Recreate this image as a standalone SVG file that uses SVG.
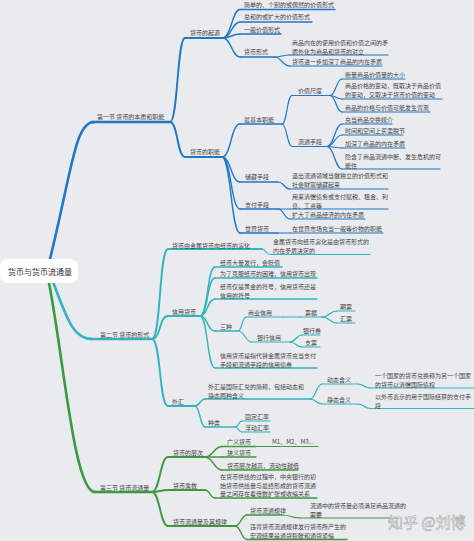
<svg xmlns="http://www.w3.org/2000/svg" width="474" height="541" viewBox="0 0 474 541">
<style>
text{font-family:"Noto Sans CJK SC","Noto Sans",sans-serif;font-size:6px;fill:#444}
.root{font-size:8px;fill:#333}
line,path{fill:none;stroke-linecap:round}
.bl{stroke:#1f77c6}
.te{stroke:#30b4c1}
.gr{stroke:#3b9a3d}
.w1{stroke-width:2.6}
.w2{stroke-width:1.9}
.w3{stroke-width:1.4}
.w4{stroke-width:1.2}
.wm{font-size:15px;fill:#fff;stroke:#aaa;stroke-width:.6}
</style>
<rect width="474" height="541" fill="#e9ebee"/>
<g id="connectors">
<path class="bl w1" d="M50 259 C72 170 75 122 94 122"/>
<path class="bl w2" d="M170 122 C178 122 177 38 185 38"/>
<path class="bl w2" d="M170 122 C178 122 177 157 185 157"/>
<path class="bl w3" d="M223 38 C231 38 232 9.5 240 9.5"/>
<path class="bl w3" d="M223 38 C231 38 232 22 240 22"/>
<path class="bl w3" d="M223 38 C231 38 232 34 240 34"/>
<path class="bl w3" d="M223 38 C231 38 232 57 240 57"/>
<path class="bl w4" d="M274 57 C282 57 282 55 290 55"/>
<path class="bl w4" d="M274 57 C282 57 282 66 290 66"/>
<path class="bl w3" d="M222 157 C231 157 231 124 240 124"/>
<path class="bl w3" d="M222 157 C231 157 231 182 240 182"/>
<path class="bl w3" d="M222 157 C231 157 231 209 240 209"/>
<path class="bl w3" d="M222 157 C231 157 231 233 240 233"/>
<path class="bl w4" d="M282 124 C287 124 287 95.5 292 95.5"/>
<path class="bl w4" d="M282 124 C287 124 287 146.5 292 146.5"/>
<path class="bl w4" d="M330 95.5 C336 95.5 336 79 342 79"/>
<path class="bl w4" d="M330 95.5 C336 95.5 336 99 342 99"/>
<path class="bl w4" d="M330 95.5 C336 95.5 336 112 342 112"/>
<path class="bl w4" d="M327 146.5 C334 146.5 335 124 342 124"/>
<path class="bl w4" d="M327 146.5 C334 146.5 335 135 342 135"/>
<path class="bl w4" d="M327 146.5 C334 146.5 335 148 342 148"/>
<path class="bl w4" d="M327 146.5 C334 146.5 335 169 342 169"/>
<path class="bl w4" d="M278 182 C284 182 284 189 290 189"/>
<path class="bl w4" d="M278 209 C284 209 284 209 290 209"/>
<path class="bl w4" d="M278 209 C284 209 284 219 290 219"/>
<path class="bl w4" d="M278 233 L290 233"/>
<path class="te w1" d="M53 282 C66 315 72 339 92 339"/>
<path class="te w2" d="M152 339 C161 339 159 249 168 249"/>
<path class="te w2" d="M152 339 C161 339 159 316 168 316"/>
<path class="te w2" d="M152 339 C161 339 159 406 168 406"/>
<path class="te w4" d="M262 249 C266 249 266 254.5 270 254.5"/>
<path class="te w3" d="M200 316 C208 316 207 267 215 267"/>
<path class="te w3" d="M200 316 C208 316 207 278 215 278"/>
<path class="te w3" d="M200 316 C208 316 207 299 215 299"/>
<path class="te w3" d="M200 316 C208 316 207 331 215 331"/>
<path class="te w3" d="M200 316 C208 316 207 368 215 368"/>
<path class="te w4" d="M238 331 C242 331 242 317 246 317"/>
<path class="te w4" d="M238 331 C245 331 245 342 252 342"/>
<path class="te w4" d="M283 317 L300 317"/>
<path class="te w4" d="M322 317 C330 317 329 311 337 311"/>
<path class="te w4" d="M322 317 C330 317 329 323 337 323"/>
<path class="te w4" d="M290 342 C296 342 296 335 302 335"/>
<path class="te w4" d="M290 342 C296 342 296 347 302 347"/>
<path class="te w3" d="M195 406 C200 406 200 399 205 399"/>
<path class="te w3" d="M195 406 C200 406 200 427 205 427"/>
<path class="te w4" d="M310 399 C316 399 316 384 322 384"/>
<path class="te w4" d="M310 399 C316 399 316 404 322 404"/>
<path class="te w4" d="M358 384 C364 384 364 388 370 388"/>
<path class="te w4" d="M358 404 C364 404 364 408.5 370 408.5"/>
<path class="te w4" d="M235 427 C238.5 427 238.5 421 242 421"/>
<path class="te w4" d="M235 427 C238.5 427 238.5 432 242 432"/>
<path class="gr w1" d="M49 283 C64 360 74 492 95 492"/>
<path class="gr w2" d="M152 492 C160 492 160 457 168 457"/>
<path class="gr w2" d="M152 492 C160 492 160 490 168 490"/>
<path class="gr w2" d="M152 492 C160 492 160 526 168 526"/>
<path class="gr w3" d="M205 457 C213 457 214 446.5 222 446.5"/>
<path class="gr w3" d="M205 457 L222 457"/>
<path class="gr w3" d="M205 457 C213 457 214 470 222 470"/>
<path class="gr w4" d="M256 446.5 L268 446.5"/>
<path class="gr w3" d="M205 490 C210 490 210 498 215 498"/>
<path class="gr w3" d="M235 526 C241 526 241 515 247 515"/>
<path class="gr w3" d="M235 526 C241 526 241 539.5 247 539.5"/>
<path class="gr w4" d="M282 515 C291 515 291 518 300 518"/>
</g>
<g id="root">
<rect x="0" y="259" width="78" height="24" rx="8" fill="#fff"/>
<text class="root" x="8" y="274.5">货币与货币流通量</text>
</g>
<g id="s1"><line class="bl w1" x1="92" y1="122" x2="170" y2="122"/><text x="97" y="119">第一节 货币的本质和职能</text></g>
<g id="s1-origin"><line class="bl w2" x1="185" y1="38" x2="223" y2="38"/><text x="190" y="35.2">货币的起源</text></g>
<g id="s1-o1"><line class="bl w3" x1="240" y1="9.5" x2="335" y2="9.5"/><text x="244" y="7">简单的、个别的或偶然的价值形式</text></g>
<g id="s1-o2"><line class="bl w3" x1="240" y1="22" x2="312" y2="22"/><text x="244" y="19.2">总和的或扩大的价值形式</text></g>
<g id="s1-o3"><line class="bl w3" x1="240" y1="34" x2="281" y2="34"/><text x="244" y="32">一般价值形式</text></g>
<g id="s1-o4"><line class="bl w3" x1="240" y1="57" x2="274" y2="57"/><text x="244" y="54.2">货币形式</text></g>
<g id="s1-o41"><line class="bl w4" x1="290" y1="55" x2="388" y2="55"/><text x="292" y="45">商品内在的使用价值和价值之间的矛<tspan x="292" dy="8.5">盾外化为商品和货币的对立</tspan></text></g>
<g id="s1-o42"><line class="bl w4" x1="290" y1="66" x2="382" y2="66"/><text x="292" y="64">货币进一步加深了商品的内在矛盾</text></g>
<g id="s1-func"><line class="bl w2" x1="185" y1="157" x2="222" y2="157"/><text x="190" y="154.2">货币的职能</text></g>
<g id="s1-f1"><line class="bl w3" x1="240" y1="124" x2="282" y2="124"/><text x="244" y="122">最基本职能</text></g>
<g id="s1-f11"><line class="bl w4" x1="292" y1="95.5" x2="330" y2="95.5"/><text x="298" y="92.5">价值尺度</text></g>
<g id="s1-f111"><line class="bl w4" x1="342" y1="79" x2="405" y2="79"/><text x="345" y="77">衡量商品价值量的大小</text></g>
<g id="s1-f112"><line class="bl w4" x1="342" y1="99" x2="442" y2="99"/><text x="345" y="88.2">商品价格的变动，既取决于商品价值<tspan x="345" dy="8.5">的变动，又取决于货币价值的变动</tspan></text></g>
<g id="s1-f113"><line class="bl w4" x1="342" y1="112" x2="430" y2="112"/><text x="345" y="110">商品的价格与价值可能发生背离</text></g>
<g id="s1-f12"><line class="bl w4" x1="292" y1="146.5" x2="327" y2="146.5"/><text x="298" y="144">流通手段</text></g>
<g id="s1-f121"><line class="bl w4" x1="342" y1="124" x2="392" y2="124"/><text x="345" y="122">充当商品交换媒介</text></g>
<g id="s1-f122"><line class="bl w4" x1="342" y1="135" x2="403" y2="135"/><text x="345" y="133">时间和空间上买卖脱节</text></g>
<g id="s1-f123"><line class="bl w4" x1="342" y1="148" x2="405" y2="148"/><text x="345" y="146">加深了商品的内在矛盾</text></g>
<g id="s1-f124"><line class="bl w4" x1="342" y1="169" x2="440" y2="169"/><text x="345" y="159">隐含了商品流通中断、发生危机的可<tspan x="345" dy="8.5">能性</tspan></text></g>
<g id="s1-f2"><line class="bl w3" x1="240" y1="182" x2="278" y2="182"/><text x="245" y="179.2">储藏手段</text></g>
<g id="s1-f21"><line class="bl w4" x1="290" y1="189" x2="388" y2="189"/><text x="292" y="178.2">退出流通领域当做独立的价值形式和<tspan x="292" dy="8.5">社会财富储藏起来</tspan></text></g>
<g id="s1-f3"><line class="bl w3" x1="240" y1="209" x2="278" y2="209"/><text x="245" y="206.8">支付手段</text></g>
<g id="s1-f31"><line class="bl w4" x1="290" y1="209" x2="388" y2="209"/><text x="292" y="199">用来清偿债务或支付赋税、租金、利<tspan x="292" dy="8.5">息、工资等</tspan></text></g>
<g id="s1-f32"><line class="bl w4" x1="290" y1="219" x2="365" y2="219"/><text x="292" y="217">扩大了商品经济的内在矛盾</text></g>
<g id="s1-f4"><line class="bl w3" x1="240" y1="233" x2="278" y2="233"/><text x="245" y="231">世界货币</text></g>
<g id="s1-f41"><line class="bl w4" x1="290" y1="233" x2="383" y2="233"/><text x="292" y="230.5">在世界市场充当一般等价物的职能</text></g>
<g id="s2"><line class="te w1" x1="90" y1="339" x2="152" y2="339"/><text x="100" y="336.5">第二节 货币的形式</text></g>
<g id="s2-c1"><line class="te w2" x1="168" y1="249" x2="262" y2="249"/><text x="172" y="247.5">货币由金属货币向纸币的演化</text></g>
<g id="s2-c11"><line class="te w4" x1="270" y1="254.5" x2="370" y2="254.5"/><text x="273" y="244">金属货币向纸币演化是由货币形式的<tspan x="273" dy="8.5">内在矛盾决定的</tspan></text></g>
<g id="s2-c2"><line class="te w2" x1="168" y1="316" x2="200" y2="316"/><text x="172" y="314">信用货币</text></g>
<g id="s2-c21"><line class="te w3" x1="215" y1="267" x2="282" y2="267"/><text x="220" y="265">纸币大量发行，会贬值</text></g>
<g id="s2-c22"><line class="te w3" x1="215" y1="278" x2="317" y2="278"/><text x="220" y="276">为了克服纸币的困难，信用货币出现</text></g>
<g id="s2-c23"><line class="te w3" x1="215" y1="299" x2="317" y2="299"/><text x="220" y="289">纸币仅是黄金的符号，信用货币还是<tspan x="220" dy="8.5">信用的符号</tspan></text></g>
<g id="s2-c24"><line class="te w3" x1="215" y1="331" x2="238" y2="331"/><text x="220" y="329">三种</text></g>
<g id="s2-c241"><line class="te w4" x1="246" y1="317" x2="283" y2="317"/><text x="248" y="315">商业信用</text></g>
<g id="s2-c2411"><line class="te w4" x1="300" y1="317" x2="322" y2="317"/><text x="305" y="315">票据</text></g>
<g id="s2-c24111"><line class="te w4" x1="337" y1="311" x2="355" y2="311"/><text x="340" y="309">期票</text></g>
<g id="s2-c24112"><line class="te w4" x1="337" y1="323" x2="355" y2="323"/><text x="340" y="321">汇票</text></g>
<g id="s2-c242"><line class="te w4" x1="252" y1="342" x2="290" y2="342"/><text x="257" y="340">银行信用</text></g>
<g id="s2-c2421"><line class="te w4" x1="302" y1="335" x2="320" y2="335"/><text x="303" y="333">银行券</text></g>
<g id="s2-c2422"><line class="te w4" x1="302" y1="347" x2="320" y2="347"/><text x="305" y="345">支票</text></g>
<g id="s2-c25"><line class="te w3" x1="215" y1="368" x2="317" y2="368"/><text x="220" y="358">信用货币是指代替金属货币充当支付<tspan x="220" dy="8.5">手段和流通手段的信用债券</tspan></text></g>
<g id="s2-c3"><line class="te w2" x1="168" y1="406" x2="195" y2="406"/><text x="172" y="404">外汇</text></g>
<g id="s2-c31"><line class="te w3" x1="205" y1="399" x2="310" y2="399"/><text x="208" y="389">外汇是国际汇兑的简称，包括动态和<tspan x="208" dy="8.5">静态两种含义</tspan></text></g>
<g id="s2-c311"><line class="te w4" x1="322" y1="384" x2="358" y2="384"/><text x="327" y="382">动态含义</text></g>
<g id="s2-c3111"><line class="te w4" x1="370" y1="388" x2="474" y2="388"/><text x="375" y="378">一个国家的货币兑换称为另一个国家<tspan x="375" dy="8.5">的货币以清偿国际债权</tspan></text></g>
<g id="s2-c312"><line class="te w4" x1="322" y1="404" x2="358" y2="404"/><text x="327" y="402">静态含义</text></g>
<g id="s2-c3121"><line class="te w4" x1="370" y1="408.5" x2="474" y2="408.5"/><text x="375" y="399">以外币表示的用于国际结算的支付手<tspan x="375" dy="8.5">段</tspan></text></g>
<g id="s2-c32"><line class="te w3" x1="205" y1="427" x2="235" y2="427"/><text x="208" y="425">种类</text></g>
<g id="s2-c321"><line class="te w4" x1="242" y1="421" x2="270" y2="421"/><text x="245" y="419">固定汇率</text></g>
<g id="s2-c322"><line class="te w4" x1="242" y1="432" x2="270" y2="432"/><text x="245" y="430">浮动汇率</text></g>
<g id="s3"><line class="gr w1" x1="93" y1="492" x2="152" y2="492"/><text x="100" y="490">第三节 货币流通量</text></g>
<g id="s3-d1"><line class="gr w2" x1="168" y1="457" x2="205" y2="457"/><text x="173" y="455">货币的层次</text></g>
<g id="s3-d11"><line class="gr w3" x1="222" y1="446.5" x2="256" y2="446.5"/><text x="227" y="444.2">广义货币</text></g>
<g id="s3-d111"><line class="gr w4" x1="268" y1="446.5" x2="318" y2="446.5"/><text x="272" y="444.2">M1、M2、M3...</text></g>
<g id="s3-d12"><line class="gr w3" x1="222" y1="457" x2="256" y2="457"/><text x="227" y="455">狭义货币</text></g>
<g id="s3-d13"><line class="gr w3" x1="222" y1="470" x2="298" y2="470"/><text x="227" y="468">货币层次越高，流动性越低</text></g>
<g id="s3-d2"><line class="gr w2" x1="168" y1="490" x2="205" y2="490"/><text x="173" y="487.8">货币乘数</text></g>
<g id="s3-d21"><line class="gr w3" x1="215" y1="498" x2="317" y2="498"/><text x="220" y="479">在货币供给的过程中，中央银行的初<tspan x="220" dy="8.5">始货币供给量与最终形成的货币流通</tspan><tspan x="220" dy="8.5">量之间存在着倍数扩张或收缩关系</tspan></text></g>
<g id="s3-d3"><line class="gr w2" x1="168" y1="526" x2="235" y2="526"/><text x="173" y="524">货币流通量及其规律</text></g>
<g id="s3-d31"><line class="gr w3" x1="247" y1="515" x2="282" y2="515"/><text x="250" y="513">货币流通规律</text></g>
<g id="s3-d311"><line class="gr w4" x1="300" y1="518" x2="398" y2="518"/><text x="310" y="508">流通中的货币量必须满足商品流通的<tspan x="310" dy="8.5">需要</tspan></text></g>
<g id="s3-d32"><line class="gr w3" x1="247" y1="539.5" x2="347" y2="539.5"/><text x="250" y="529.2">违背货币流通规律发行货币所产生的<tspan x="250" dy="8.5">宏观结果是通货膨胀和通货紧缩</tspan></text></g>
<text class="wm" x="388" y="528">知乎 @刘博</text>
</svg>
